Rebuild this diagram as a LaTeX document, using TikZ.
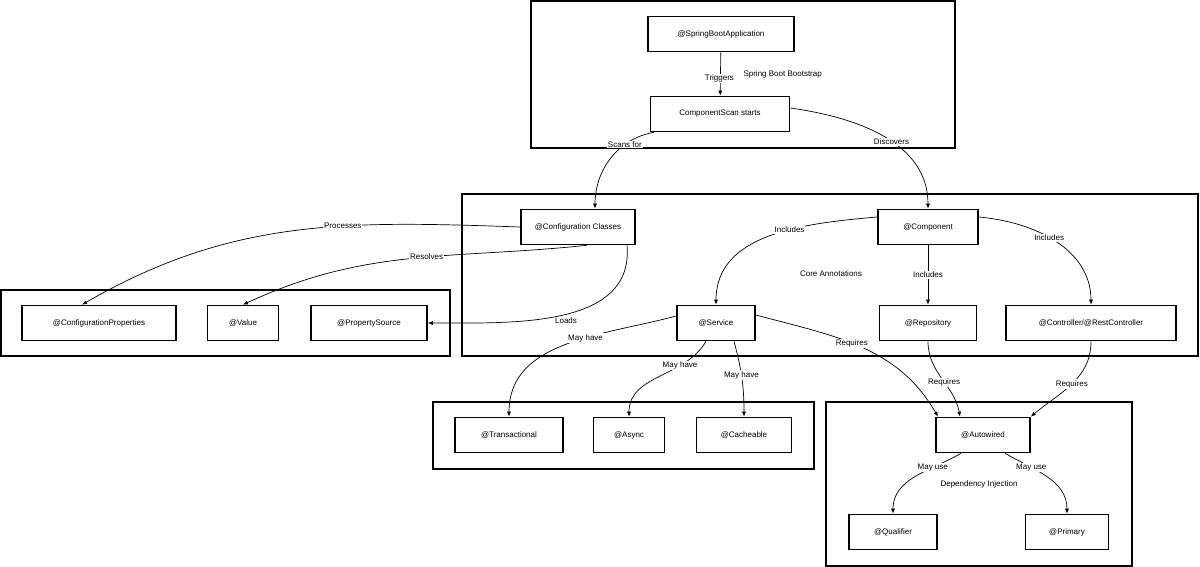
\documentclass[tikz,border=0pt]{standalone}
\usepackage{fontspec}
\setmainfont{Liberation Sans}
\usetikzlibrary{arrows.meta, positioning}

\begin{document}
\begin{tikzpicture}[x=1pt, y=-1pt, font=\fontsize{8}{9}\selectfont,
  box/.style={draw, line width=1.6pt, fill=white, minimum height=35pt, inner sep=0pt},
  group/.style={draw, line width=1.6pt},
  edge/.style={-{Latex[length=5pt, width=4pt]}, line width=0.7pt},
  lbl/.style={fill=white, inner sep=1pt}]
\useasboundingbox (0,0) rectangle (1200,567);
% Groups
\draw[group] (531,1) rectangle (955,148);
\draw[group] (462,194) rectangle (1198,356);
\draw[group] (1,290) rectangle (450,356);
\draw[group] (433,402) rectangle (814,469);
\draw[group] (826,402) rectangle (1132,566);
\node[anchor=west] (tboot) at (740,74) {Spring Boot Bootstrap};
\node (tcore) at (831,274) {Core Annotations};
\node (tprop) at (236,324) {Properties};
\node (tdi) at (979,484) {Dependency Injection};
% Nodes
\node[box, minimum width=146pt] (app) at (721,34) {@SpringBootApplication};
\node[box, minimum width=139pt] (scan) at (720,114) {ComponentScan starts};
\node[box, minimum width=114pt] (conf) at (578,227) {@Configuration Classes};
\node[box, minimum width=100pt] (comp) at (928,227) {@Component};
\node[box, minimum width=78pt] (serv) at (716,323) {@Service};
\node[box, minimum width=97pt] (repo) at (928,323) {@Repository};
\node[box, minimum width=170pt] (ctrl) at (1091,323) {@Controller/@RestController};
\node[box, minimum width=154pt] (cprops) at (99,323) {@ConfigurationProperties};
\node[box, minimum width=71pt] (value) at (243,323) {@Value};
\node[box, minimum width=116pt] (psrc) at (369,323) {@PropertySource};
\node[box, minimum width=108pt] (trans) at (509,435) {@Transactional};
\node[box, minimum width=71pt] (async) at (629,435) {@Async};
\node[box, minimum width=95pt] (cache) at (744,435) {@Cacheable};
\node[box, minimum width=94pt] (auto) at (983,435) {@Autowired};
\node[box, minimum width=88pt] (qual) at (893,532) {@Qualifier};
\node[box, minimum width=83pt] (prim) at (1067,532) {@Primary};
% Connectors
\draw[edge] (app) -- node[lbl, pos=0.6, xshift=-1pt] {Triggers} (scan);
\draw[edge] ([xshift=-66pt]scan.south) to[out=190, in=90] node[lbl, pos=0.3] {Scans for} ([xshift=17pt]conf.north);
\draw[edge] ([yshift=6pt]scan.east) to[out=-8, in=90] node[lbl, pos=0.55] {Discovers} (comp.north);
\draw[edge] (conf.west) to[out=178, in=30] node[lbl, pos=0.38] {Processes} ([xshift=-17pt]cprops.north);
\draw[edge] ([xshift=9pt]conf.south) to[out=186, in=25] node[lbl, pos=0.45] {Resolves} (value.north);
\draw[edge] ([xshift=49pt]conf.south) to[out=-85, in=0] (psrc.east);
\node (tloads) at (566,321) {Loads};
\draw[edge] ([yshift=10pt]comp.west) to[out=185, in=90] node[lbl, pos=0.4] {Includes} (serv.north);
\draw[edge] (comp) -- node[lbl] {Includes} (repo);
\draw[edge] ([yshift=10pt]comp.east) to[out=-5, in=90] node[lbl, pos=0.45] {Includes} (ctrl.north);
\draw[edge] ([yshift=7pt]serv.west) to[out=195, in=90] node[lbl, pos=0.4] {May have} (trans.north);
\draw[edge] ([xshift=-10pt]serv.south) to[out=240, in=90] node[lbl, pos=0.3] {May have} (async.north);
\draw[edge] ([xshift=18pt]serv.south) to[out=-75, in=90] node[lbl, pos=0.45] {May have} (cache.north);
\draw[edge] ([yshift=8pt]serv.east) to[out=-15, in=120] node[lbl, pos=0.45] {Requires} ([xshift=-45pt]auto.north);
\draw[edge] (repo.south) to[out=-90, in=100] node[lbl, pos=0.55] {Requires} ([xshift=-23pt]auto.north);
\draw[edge] (ctrl.south) to[out=-90, in=40] node[lbl, pos=0.5] {Requires} (auto.north east);
\draw[edge] ([xshift=-22pt]auto.south) to[out=-150, in=90] node[lbl, pos=0.3] {May use} (qual.north);
\draw[edge] ([xshift=22pt]auto.south) to[out=-30, in=90] node[lbl, pos=0.3] {May use} (prim.north);
\end{tikzpicture}
\end{document}
